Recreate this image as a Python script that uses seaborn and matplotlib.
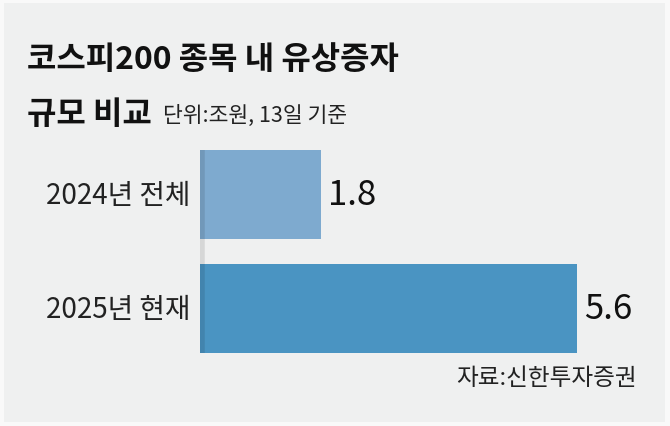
import matplotlib
matplotlib.use("Agg")
import matplotlib.pyplot as plt
import seaborn as sns
import pandas as pd
from matplotlib.patches import Rectangle

categories = ["2024년 전체", "2025년 현재"]
values = [1.8, 5.6]
value_labels = ["1.8", "5.6"]
bar_colors = ["#7eaacf", "#4a94c2"]
title_line1 = "코스피200 종목 내 유상증자"
title_line2 = "규모 비교"
unit_text = "단위:조원, 13일 기준"
source_text = "자료:신한투자증권"

sns.set_theme(style="white")
plt.rcParams['font.family'] = ['Noto Sans CJK KR', 'DejaVu Sans']

W, H = 670, 427
fig = plt.figure(figsize=(W / 100, H / 100), dpi=100)
fig.patch.set_facecolor("#f9f9f9")
fig.patches.append(Rectangle((4 / W, 4 / H), (665 - 4) / W, (423 - 4) / H,
                             transform=fig.transFigure, facecolor="#eff0f0",
                             edgecolor="none", zorder=-10))

px_per_unit = 377 / 5.6
ax_left, ax_right = 200, 670
top, bottom = 138.5, 366.5
ax = fig.add_axes([ax_left / W, (H - bottom) / H, (ax_right - ax_left) / W, (bottom - top) / H])
ax.set_facecolor("none")
ax.set_zorder(5)

df = pd.DataFrame({"cat": categories, "val": values})
sns.barplot(data=df, y="cat", x="val", hue="cat", palette=bar_colors, orient="h",
            width=0.78, legend=False, ax=ax, saturation=1, linewidth=0)
ax.set_xlim(0, (ax_right - ax_left) / px_per_unit)
ax.set_ylim(1.5, -0.5)
for s in ax.spines.values():
    s.set_visible(False)
ax.set_xticks([])
ax.set_yticks([])
ax.set_xlabel("")
ax.set_ylabel("")

# subtle left shading
ax.plot([0.03, 0.03], [-0.39, 1.39], color="black", alpha=0.10, lw=4, solid_capstyle="butt")

for i, (v, lab) in enumerate(zip(values, value_labels)):
    ax.text(v + 7 / px_per_unit, i, lab, va="center", ha="left", fontsize=25,
            fontweight="medium", color="#111111", clip_on=False)
    ax.text(-10 / px_per_unit, i, categories[i], va="center", ha="right", fontsize=20,
            color="#222222", clip_on=False)


def fx(x):
    return x / W


def fy(y):
    return 1 - y / H


fig.text(fx(27), fy(60), title_line1, fontsize=23, fontweight="bold", va="center",
         ha="left", color="#111111")
fig.text(fx(27), fy(115), title_line2, fontsize=23, fontweight="bold", va="center",
         ha="left", color="#111111")
fig.text(fx(163), fy(116), unit_text, fontsize=15.5, va="center", ha="left",
         color="#222222")
fig.text(fx(637), fy(379), source_text, fontsize=17, va="center", ha="right",
         color="#222222")

fig.savefig("out.png", dpi=100, facecolor=fig.get_facecolor())
